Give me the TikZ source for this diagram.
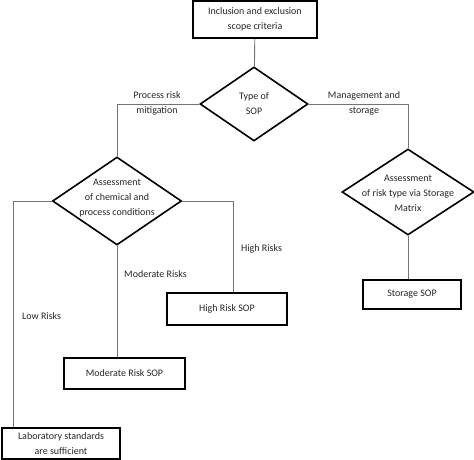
\documentclass[tikz,border=0pt]{standalone}
\usepackage{fontspec}
\setmainfont{Carlito}
\usetikzlibrary{shapes.geometric}
\begin{document}
\begin{tikzpicture}[x=1pt,y=-1pt,
  font=\fontsize{10}{15}\selectfont,
  box/.style={draw=black,line width=1.6pt,rectangle,inner sep=0pt,align=center,text=black!85},
  dia/.style={draw=black,line width=1.6pt,diamond,inner sep=0pt},
  dtext/.style={align=center,text=black!85,inner sep=0pt},
  conn/.style={draw=black!55,line width=0.9pt},
  lbl/.style={text=black!85,inner sep=0pt,align=center}]
\useasboundingbox (0,0) rectangle (474,460);
% boxes
\node[box,minimum width=124pt,minimum height=37pt] (top) at (255,19.5) {Inclusion and exclusion\\scope criteria};
\node[box,minimum width=118pt,minimum height=31pt] (lab) at (61,443.5) {Laboratory standards\\are sufficient};
\node[box,minimum width=121pt,minimum height=31pt] (mod) at (124.5,373.5) {Moderate Risk SOP};
\node[box,minimum width=120pt,minimum height=32pt] (high) at (227,309) {High Risk SOP};
\node[box,minimum width=98pt,minimum height=29pt] (st) at (412,294.5) {Storage SOP};
% diamonds
\node[dia,minimum width=108pt,minimum height=74pt] (type) at (254,104) {};
\node[dtext] (typet) at (254,104) {Type of\\SOP};
\node[dia,minimum width=129pt,minimum height=88pt] (ld) at (117,201) {};
\node[dtext] (ldt) at (117,198) {Assessment\\of chemical and\\process conditions};
\node[dia,minimum width=132pt,minimum height=86pt] (sd) at (408,192) {};
\node[dtext] (sdt) at (408,193) {Assessment\\of risk type via Storage\\Matrix};
% connectors
\draw[conn] (top) -- (type);
\draw[conn] (type.west) -| (ld.north);
\draw[conn] (type.east) -| (sd.north);
\draw[conn] (ld.west) -| ([xshift=12pt]lab.north west);
\draw[conn] (ld.east) -| ([xshift=6pt]high.north);
\draw[conn] (ld.south) -- (ld.south |- mod.north);
\draw[conn] (sd.south) -- (sd.south |- st.north);
% labels
\node[lbl] (l1) at (157,103.5) {Process risk\\mitigation};
\node[lbl] (l2) at (364,103.5) {Management and\\storage};
\node[lbl,anchor=west] (l3) at (241,249) {High Risks};
\node[lbl,anchor=west] (l4) at (124,274) {Moderate Risks};
\node[lbl,anchor=west] (l5) at (22,316) {Low Risks};
\end{tikzpicture}
\end{document}
